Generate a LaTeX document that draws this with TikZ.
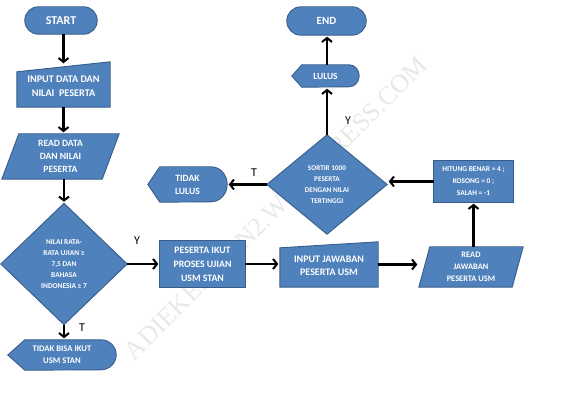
\documentclass[tikz,border=0pt]{standalone}
\usepackage{fontspec}
\setmainfont{Carlito}[BoldFont={Carlito Bold}]
\newfontfamily\wmfont{Liberation Serif}
\usetikzlibrary{arrows.meta,backgrounds}
\definecolor{fcol}{HTML}{4F81BD}
\definecolor{lcol}{HTML}{385D8A}
\tikzset{
  shp/.style={fill=fcol, draw=lcol, line width=0.9pt},
  lbl/.style={text=white, align=center, inner sep=0pt, draw=none},
  conn/.style={line width=2.2pt, -{Straight Barb[length=4pt,width=10pt,line width=2pt]}, shorten >=1.5pt},
  yt/.style={font=\fontsize{12}{12}\selectfont, text=black, inner sep=0pt},
  fs/.style 2 args={font=\fontsize{#1}{#2}\selectfont\bfseries}
}
\begin{document}
\begin{tikzpicture}[x=1pt,y=-1pt]
\useasboundingbox (0,0) rectangle (570,403);
% nodes
\node[lbl,fs={12}{13},minimum width=72pt,minimum height=27pt] (start) at (61,20.5) {START};
\node[lbl,fs={10.2}{14},minimum width=93pt,minimum height=45pt] (inp1) at (63.5,84.5) {\strut INPUT DATA DAN\\NILAI\ \ PESERTA};
\node[lbl,fs={9.6}{13},minimum width=117pt,minimum height=45pt] (read1) at (60.5,156.5) {READ DATA\\DAN NILAI\\PESERTA};
\node[lbl,fs={7.4}{11},minimum width=126pt,minimum height=121pt] (dia1) at (64,264) {NILAI RATA-\\RATA UJIAN ≥\\7,5 DAN\\BAHASA\\INDONESIA ≥ 7};
\node[lbl,fs={9.8}{14},minimum width=85pt,minimum height=46pt] (ikut) at (202.5,264) {PESERTA IKUT\\PROSES UJIAN\\USM STAN};
\node[lbl,fs={8.6}{12},minimum width=108pt,minimum height=30pt] (tbisa) at (62,355) {TIDAK BISA IKUT\\USM STAN};
\node[lbl,fs={10}{13},minimum width=98pt,minimum height=45pt] (inp2) at (329,264.5) {\strut INPUT JAWABAN\\PESERTA USM};
\node[lbl,fs={8.4}{12},minimum width=104pt,minimum height=40pt] (read2) at (471,267) {READ\\JAWABAN\\PESERTA USM};
\node[lbl,fs={7.4}{12},minimum width=79pt,minimum height=41pt] (hit) at (473.5,181.5) {HITUNG BENAR = 4 ;\\KOSONG = 0 ;\\SALAH = -1};
\node[lbl,fs={7.2}{11},minimum width=120pt,minimum height=99pt] (dia2) at (327,184.5) {SORTIR 1000\\PESERTA\\DENGAN NILAI\\TERTINGGI};
\node[lbl,fs={9.6}{13},minimum width=79pt,minimum height=35pt] (tlulus) at (187.5,184.5) {TIDAK\\LULUS};
\node[lbl,fs={9.4}{10},minimum width=67pt,minimum height=22pt] (lulus) at (325.5,76) {LULUS};
\node[lbl,fs={11}{12},minimum width=79pt,minimum height=28pt] (end) at (326.5,21) {END};
% labels
\node[yt] (ly1) at (137,241) {Y};
\node[yt] (lt1) at (82,328) {T};
\node[yt] (lt2) at (254,173) {T};
\node[yt] (ly2) at (348,121) {Y};
% shapes
\begin{scope}[on background layer]
\node[rotate=45, text=black!9, font=\wmfont\fontsize{26}{26}\selectfont] (wm) at (276,208) {ADIEKERMAN2.WORDPRESS.COM};
\draw[shp,rounded corners=13.5pt] (start.north west) rectangle (start.south east);
\draw[shp,rounded corners=14pt] (end.north west) rectangle (end.south east);
\draw[shp] ([yshift=-10pt]inp1.north west) -- (inp1.north east) -- (inp1.south east) -- (inp1.south west) -- cycle;
\draw[shp] ([yshift=-6pt]inp2.north west) -- (inp2.north east) -- (inp2.south east) -- (inp2.south west) -- cycle;
\draw[shp] ([xshift=17pt]read1.north west) -- (read1.north east) -- ([xshift=-17pt]read1.south east) -- (read1.south west) -- cycle;
\draw[shp] ([xshift=11pt]read2.north west) -- (read2.north east) -- ([xshift=-11pt]read2.south east) -- (read2.south west) -- cycle;
\draw[shp] (dia1.north) -- (dia1.east) -- (dia1.south) -- (dia1.west) -- cycle;
\draw[shp] (dia2.north) -- (dia2.east) -- (dia2.south) -- (dia2.west) -- cycle;
\draw[shp] (ikut.north west) rectangle (ikut.south east);
\draw[shp] (hit.north west) rectangle (hit.south east);
\draw[shp] (tbisa.west) -- ([xshift=17pt]tbisa.north west) -- ([xshift=-15pt]tbisa.north east)
  arc[start angle=90,end angle=-90,x radius=15pt,y radius=15pt] -- ([xshift=17pt]tbisa.south west) -- cycle;
\draw[shp] (tlulus.west) -- ([xshift=12pt]tlulus.north west) -- ([xshift=-16pt]tlulus.north east)
  arc[start angle=90,end angle=-90,x radius=16pt,y radius=17.5pt] -- ([xshift=12pt]tlulus.south west) -- cycle;
\draw[shp] (lulus.west) -- ([xshift=10pt]lulus.north west) -- ([xshift=-10pt]lulus.north east)
  arc[start angle=90,end angle=-90,x radius=10pt,y radius=11pt] -- ([xshift=10pt]lulus.south west) -- cycle;
\end{scope}
% connectors
\draw[conn] (inp1.north |- start.south) -- ([yshift=-3pt]inp1.north);
\draw[conn] (inp1.south) -- (inp1.south |- read1.north);
\draw[conn] (dia1.north |- read1.south) -- (dia1.north);
\draw[conn] (dia1.east) -- (dia1.east -| ikut.west);
\draw[conn] (dia1.south) -- (dia1.south |- tbisa.north);
\draw[conn] (ikut.east) -- (ikut.east -| inp2.west);
\draw[conn] (inp2.east) -- (inp2.east -| read2.west);
\draw[conn] (hit.south |- read2.north) -- (hit.south);
\draw[conn] (hit.west) -- (hit.west -| dia2.east);
\draw[conn] (dia2.west) -- (tlulus.east);
\draw[conn] (dia2.north) -- (dia2.north |- lulus.south);
\draw[conn] (lulus.north -| dia2.north) -- (end.south -| dia2.north);
\end{tikzpicture}
\end{document}
